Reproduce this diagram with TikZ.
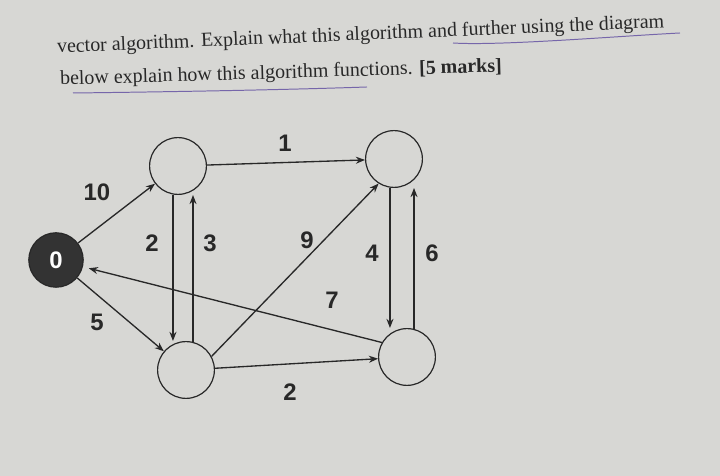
\documentclass[tikz,border=0pt]{standalone}
\usepackage{fontspec}
\setmainfont{Liberation Serif}
\newfontfamily\labelfont{Liberation Sans}
\usetikzlibrary{arrows.meta}
\definecolor{paper}{RGB}{215,215,212}
\definecolor{ink}{RGB}{40,40,40}
\definecolor{pen}{RGB}{118,102,170}
\begin{document}
\begin{tikzpicture}[>={Stealth[length=6.5pt,width=5pt]},
    vertex/.style={circle, draw=ink, line width=0.85pt, minimum size=1.42cm, inner sep=0pt},
    weight/.style={font=\labelfont\bfseries\fontsize{17}{20}\selectfont, text=ink},
    source/.style={vertex, weight, minimum size=1.36cm, fill=ink!95, text=white},
    prose/.style={anchor=base west, inner sep=0pt, font=\fontsize{14.2}{16}\selectfont, text=ink},
    edge/.style={->, ink, line width=0.95pt}]
                \fill[paper] (0,0) rectangle (18,11.9);
                \useasboundingbox (0,0) rectangle (18,11.9);
                % question text
                \node[prose, rotate=2.4] (line1) at (1.425,10.575) {vector algorithm. Explain what this algorithm and further using the diagram};
                \node[prose, rotate=1.7] (line2) at (1.50,9.775) {below explain how this algorithm functions. \textbf{[5 marks]}};
                \draw[pen, line width=0.7pt] (11.325,10.825) .. controls (12.5,10.75) and (15.5,11.0) .. (17.0,11.075);
                \draw[pen, line width=0.7pt] (1.825,9.575) .. controls (4,9.6) and (7,9.65) .. (9.175,9.725);
                % vertices
                \node[source] (s) at (1.40,5.40) {0};
                \node[vertex] (a) at (4.45,7.75) {};
                \node[vertex] (b) at (4.65,2.65) {};
                \node[vertex] (c) at (9.85,7.925) {};
                \node[vertex] (d) at (10.175,2.975) {};
                % edges
                \draw[edge] (s) -- (a);
                \draw[edge] (s) -- (b);
                \draw[edge] (a) -- (c);
                \draw[edge] (a.260) -- (a.260 |- b.north);
                \draw[edge] (b.76) -- (b.76 |- a.south);
                \draw[edge] (b.28) -- (c.238);
                \draw[edge] (c.262) -- (c.262 |- d.north);
                \draw[edge] (d.76) -- (d.76 |- c.south);
                \draw[edge, shorten >=0.15cm] (d.150) -- (s);
                \draw[edge] (b) -- (d);
                % weights
                \node[weight] (l-sa) at (2.425,7.10) {10};
                \node[weight] (l-sb) at (2.425,3.85) {5};
                \node[weight] (l-ac) at (7.125,8.325) {1};
                \node[weight] (l-ab) at (3.80,5.825) {2};
                \node[weight] (l-ba) at (5.25,5.825) {3};
                \node[weight] (l-bc) at (7.675,5.90) {9};
                \node[weight] (l-cd) at (9.30,5.575) {4};
                \node[weight] (l-dc) at (10.80,5.575) {6};
                \node[weight] (l-ds) at (8.30,4.40) {7};
                \node[weight] (l-bd) at (7.25,2.10) {2};
            \end{tikzpicture}
\end{document}
